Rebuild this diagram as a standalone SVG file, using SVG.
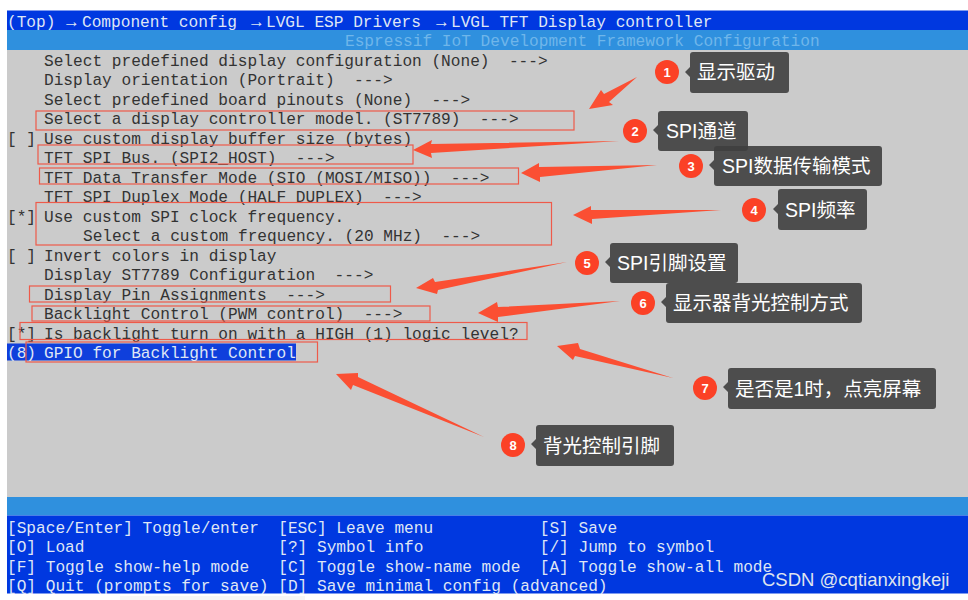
<svg xmlns="http://www.w3.org/2000/svg" width="968" height="600" viewBox="0 0 968 600">
<style>
.t{font-family:"Liberation Mono",monospace;font-size:16.15px;fill:#333;white-space:pre}
.w{fill:#dfe6f5}
.h{fill:#6fb6ea}
.ar{font-family:"Liberation Sans",sans-serif;font-size:17px;fill:#dfe6f5}
.box{fill:none;stroke:#ee5a4a;stroke-width:1.2}
.arrow{fill:#fb4f33}
.c{fill:#fb4126}
.n{font-family:"Liberation Sans",sans-serif;font-size:13px;font-weight:bold;fill:#fff;text-anchor:middle}
.lb{fill:#3f3f3f;fill-opacity:.9}
.l{font-family:"Liberation Sans","Noto Sans CJK SC",sans-serif;font-size:19.5px;fill:#fff}
</style>
<rect width="968" height="600" fill="#fff"/>
<rect x="7" y="10.5" width="961" height="19.5" fill="#0038e0"/>
<rect x="7" y="30" width="961" height="20" fill="#2f90de"/>
<rect x="7" y="50" width="961" height="447" fill="#cbcbcb"/>
<rect x="7" y="497" width="961" height="18.500" fill="#2f90de"/>
<rect x="7" y="515.500" width="961" height="78" fill="#0038e0"/>
<rect x="120" y="596" width="185" height="4" fill="#f6f6f6"/>
<rect x="7" y="343.500" width="289" height="17" fill="#0f3fdc"/>
<g id="terminal-text">
<text class="t w" x="7" y="27">(Top)</text><text class="ar" x="63" y="27">→</text><text class="t w" x="82" y="27">Component config</text><text class="ar" x="248" y="27">→</text><text class="t w" x="266" y="27">LVGL ESP Drivers</text><text class="ar" x="433" y="27">→</text><text class="t w" x="451" y="27">LVGL TFT Display controller</text>
<text class="t h" x="345" y="46">Espressif IoT Development Framework Configuration</text>
<text class="t" x="44" y="66">Select predefined display configuration (None)  ---&gt;</text>
<text class="t" x="44" y="85">Display orientation (Portrait)  ---&gt;</text>
<text class="t" x="44" y="105">Select predefined board pinouts (None)  ---&gt;</text>
<text class="t" x="44" y="124">Select a display controller model. (ST7789)  ---&gt;</text>
<text class="t" x="7" y="144">[ ]</text><text class="t" x="44" y="144">Use custom display buffer size (bytes)</text>
<text class="t" x="44" y="163">TFT SPI Bus. (SPI2_HOST)  ---&gt;</text>
<text class="t" x="44" y="183">TFT Data Transfer Mode (SIO (MOSI/MISO))  ---&gt;</text>
<text class="t" x="44" y="202">TFT SPI Duplex Mode (HALF DUPLEX)  ---&gt;</text>
<text class="t" x="7" y="222">[*]</text><text class="t" x="44" y="222">Use custom SPI clock frequency.</text>
<text class="t" x="83" y="241">Select a custom frequency. (20 MHz)  ---&gt;</text>
<text class="t" x="7" y="261">[ ]</text><text class="t" x="44" y="261">Invert colors in display</text>
<text class="t" x="44" y="280">Display ST7789 Configuration  ---&gt;</text>
<text class="t" x="44" y="300">Display Pin Assignments  ---&gt;</text>
<text class="t" x="44" y="319">Backlight Control (PWM control)  ---&gt;</text>
<text class="t" x="7" y="339">[*]</text><text class="t" x="44" y="339">Is backlight turn on with a HIGH (1) logic level?</text>
<text class="t w" x="7" y="358">(8)</text><text class="t w" x="44" y="358">GPIO for Backlight Control</text>
<text class="t w" x="7" y="533">[Space/Enter] Toggle/enter  [ESC] Leave menu           [S] Save</text>
<text class="t w" x="7" y="552">[O] Load                    [?] Symbol info            [/] Jump to symbol</text>
<text class="t w" x="7" y="572">[F] Toggle show-help mode   [C] Toggle show-name mode  [A] Toggle show-all mode</text>
<text class="t w" x="7" y="591">[Q] Quit (prompts for save) [D] Save minimal config (advanced)</text>
</g>
<g id="highlight-boxes">
<rect class="box" x="36" y="111" width="538" height="19"/>
<rect class="box" x="38" y="145" width="375" height="19"/>
<rect class="box" x="39.500" y="168" width="479" height="16"/>
<rect class="box" x="36" y="202.500" width="515.500" height="42.500"/>
<rect class="box" x="29.500" y="286" width="361" height="16"/>
<rect class="box" x="32" y="306" width="398" height="15"/>
<rect class="box" x="20" y="322.500" width="507" height="17"/>
<rect class="box" x="26" y="342" width="291.500" height="20"/>
</g>
<g id="connectors">
<path class="arrow" d="M637 77L604 94L601 90L589 109L613 105L609 102Z"/>
<path class="arrow" d="M619 141L431 144L432 140L413 150L432 158L431 153Z"/>
<path class="arrow" d="M657 165L539 167L539 163L521 173L540 182L540 177Z"/>
<path class="arrow" d="M721 210L591 210L591 206L573 215L592 224L592 219Z"/>
<path class="arrow" d="M567 262L435 282L433 278L416 288L437 294L438 290Z"/>
<path class="arrow" d="M620 301L498 307L497 302L478 313L498 322L498 317Z"/>
<path class="arrow" d="M673 378L580 349L578 343L557 346L573 360L575 356Z"/>
<path class="arrow" d="M484 437L358 377L358 373L336 374L351 390L353 385Z"/>
</g>
<g id="n1"><circle class="c" cx="667" cy="72" r="12"/><text class="n" x="667" y="77">1</text><path class="lb" d="M690 55a3 3 0 0 1 3-3h93a3 3 0 0 1 3 3v35a3 3 0 0 1-3 3h-93a3 3 0 0 1-3-3v-13l-5-5 5-5z"/><text class="l" x="697" y="79">显示驱动</text></g>
<g id="n2"><circle class="c" cx="635" cy="131" r="12"/><text class="n" x="635" y="136">2</text><path class="lb" d="M658 114a3 3 0 0 1 3-3h84a3 3 0 0 1 3 3v34a3 3 0 0 1-3 3h-84a3 3 0 0 1-3-3v-13l-5-5 5-5z"/><text class="l" x="666" y="138">SPI通道</text></g>
<g id="n3"><circle class="c" cx="691" cy="166" r="12"/><text class="n" x="691" y="171">3</text><path class="lb" d="M714 149a3 3 0 0 1 3-3h162a3 3 0 0 1 3 3v34a3 3 0 0 1-3 3h-162a3 3 0 0 1-3-3v-13l-5-5 5-5z"/><text class="l" x="722" y="173">SPI数据传输模式</text></g>
<g id="n4"><circle class="c" cx="754" cy="210" r="12"/><text class="n" x="754" y="215">4</text><path class="lb" d="M778 192a3 3 0 0 1 3-3h83a3 3 0 0 1 3 3v35a3 3 0 0 1-3 3h-83a3 3 0 0 1-3-3v-13l-5-5 5-5z"/><text class="l" x="785" y="217">SPI频率</text></g>
<g id="n5"><circle class="c" cx="587" cy="263" r="12"/><text class="n" x="587" y="268">5</text><path class="lb" d="M610 246a3 3 0 0 1 3-3h122a3 3 0 0 1 3 3v34a3 3 0 0 1-3 3h-122a3 3 0 0 1-3-3v-13l-5-5 5-5z"/><text class="l" x="617" y="270">SPI引脚设置</text></g>
<g id="n6"><circle class="c" cx="643" cy="303" r="12"/><text class="n" x="643" y="308">6</text><path class="lb" d="M666 286a3 3 0 0 1 3-3h190a3 3 0 0 1 3 3v34a3 3 0 0 1-3 3h-190a3 3 0 0 1-3-3v-13l-5-5 5-5z"/><text class="l" x="673" y="310">显示器背光控制方式</text></g>
<g id="n7"><circle class="c" cx="705" cy="388" r="12"/><text class="n" x="705" y="393">7</text><path class="lb" d="M728 371a3 3 0 0 1 3-3h202a3 3 0 0 1 3 3v35a3 3 0 0 1-3 3h-202a3 3 0 0 1-3-3v-14l-5-5 5-5z"/><text class="l" x="735" y="396">是否是1时，点亮屏幕</text></g>
<g id="n8"><circle class="c" cx="513" cy="445" r="12"/><text class="n" x="513" y="450">8</text><path class="lb" d="M536 428a3 3 0 0 1 3-3h132a3 3 0 0 1 3 3v35a3 3 0 0 1-3 3h-132a3 3 0 0 1-3-3v-14l-5-5 5-5z"/><text class="l" x="543" y="453">背光控制引脚</text></g>
<text x="762" y="586" font-family="Liberation Sans,sans-serif" font-size="18.500" fill="#dfe3ee">CSDN @cqtianxingkeji</text>
</svg>
